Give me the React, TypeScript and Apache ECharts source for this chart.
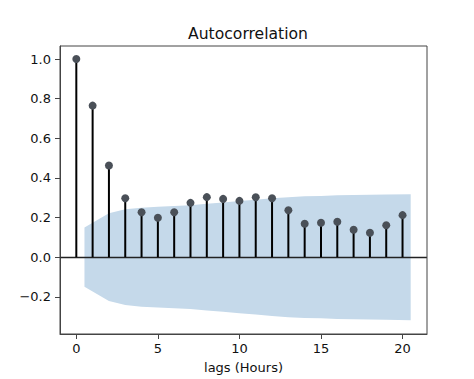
import React, { useEffect, useRef } from "react";
import * as echarts from "echarts";

const lags = [0, 1, 2, 3, 4, 5, 6, 7, 8, 9, 10, 11, 12, 13, 14, 15, 16, 17, 18, 19, 20];
const acfValues = [1.0, 0.765, 0.463, 0.297, 0.227, 0.199, 0.227, 0.274, 0.303, 0.294, 0.284, 0.302, 0.297, 0.237, 0.169, 0.174, 0.179, 0.138, 0.123, 0.161, 0.212];
const bandX = [0.5, 2, 3, 4, 5, 6, 7, 8, 9, 10, 11, 12, 13, 14, 15, 16, 17, 18, 19, 20.5];
const bandUpper = [0.15, 0.221, 0.242, 0.25, 0.254, 0.258, 0.262, 0.269, 0.276, 0.283, 0.29, 0.297, 0.303, 0.307, 0.309, 0.312, 0.314, 0.315, 0.316, 0.318];
const bandLower = [-0.15, -0.221, -0.242, -0.25, -0.254, -0.258, -0.262, -0.269, -0.276, -0.283, -0.29, -0.297, -0.303, -0.307, -0.309, -0.312, -0.314, -0.315, -0.316, -0.318];
const xTicks = [0, 5, 10, 15, 20];
const yTicks = [-0.2, 0, 0.2, 0.4, 0.6, 0.8, 1.0];

const FONT = "DejaVu Sans";
const BAND = "#c5d9ea";

export default function App() {
  const ref = useRef<HTMLDivElement>(null);
  useEffect(() => {
    if (!ref.current) return;
    const chart = echarts.init(ref.current, null, { renderer: "svg" });
    chart.setOption({
      animation: false,
      backgroundColor: "#ffffff",
      textStyle: { fontFamily: FONT },
      title: {
        text: "Autocorrelation",
        left: 243,
        top: 21,
        textAlign: "center",
        textStyle: { fontFamily: FONT, fontSize: 15.6, fontWeight: "normal", color: "#111" },
      },
      grid: {
        left: 60,
        right: 47,
        top: 46,
        bottom: 41,
        show: true,
        borderColor: "#444",
        borderWidth: 1,
        backgroundColor: "transparent",
        z: 10,
      },
      xAxis: {
        type: "value",
        min: -1,
        max: 21.5,
        name: "lags (Hours)",
        nameLocation: "middle",
        nameGap: 27,
        nameTextStyle: { fontFamily: FONT, fontSize: 13, color: "#111" },
        splitLine: { show: false },
        axisLine: { show: true, onZero: false, lineStyle: { color: "#444" } },
        axisTick: { show: true, length: 5, customValues: xTicks, lineStyle: { color: "#444" } },
        axisLabel: {
          customValues: xTicks,
          margin: 8,
          fontFamily: FONT,
          fontSize: 13,
          color: "#111",
          formatter: (v: number) => String(v),
        },
      },
      yAxis: {
        type: "value",
        min: -0.388,
        max: 1.066,
        splitLine: { show: false },
        axisLine: { show: true, onZero: false, lineStyle: { color: "#444" } },
        axisTick: { show: true, length: 5, customValues: yTicks, lineStyle: { color: "#444" } },
        axisLabel: {
          customValues: yTicks,
          margin: 9,
          fontFamily: FONT,
          fontSize: 13,
          color: "#111",
          formatter: (v: number) => v.toFixed(1).replace("-", "\u2212"),
        },
      },
      series: [
        {
          type: "line",
          data: bandX.map((x, i) => [x, bandUpper[i]]),
          showSymbol: false,
          lineStyle: { width: 0, color: BAND },
          areaStyle: { color: BAND, opacity: 1 },
          z: 1,
          silent: true,
        },
        {
          type: "line",
          data: bandX.map((x, i) => [x, bandLower[i]]),
          showSymbol: false,
          lineStyle: { width: 0, color: BAND },
          areaStyle: { color: BAND, opacity: 1 },
          z: 1,
          silent: true,
          markLine: {
            silent: true,
            symbol: "none",
            label: { show: false },
            lineStyle: { color: "#222", width: 1.3, type: "solid" },
            data: [{ yAxis: 0 }],
            z: 3,
          },
        },
        {
          type: "custom",
          z: 4,
          data: lags.map((l, i) => [l, acfValues[i]]),
          renderItem: (params: any, api: any) => {
            const p0 = api.coord([api.value(0), 0]);
            const p1 = api.coord([api.value(0), api.value(1)]);
            return {
              type: "line",
              shape: { x1: p0[0], y1: p0[1], x2: p1[0], y2: p1[1] },
              style: { stroke: "#000", lineWidth: 2 },
            };
          },
        },
        {
          type: "scatter",
          z: 5,
          data: lags.map((l, i) => [l, acfValues[i]]),
          symbol: "circle",
          symbolSize: 8,
          itemStyle: { color: "#4a5058", opacity: 1 },
        },
      ],
    });
    return () => chart.dispose();
  }, []);
  return <div ref={ref} style={{ width: 474, height: 379, position: "absolute", left: 0, top: 0 }} />;
}
